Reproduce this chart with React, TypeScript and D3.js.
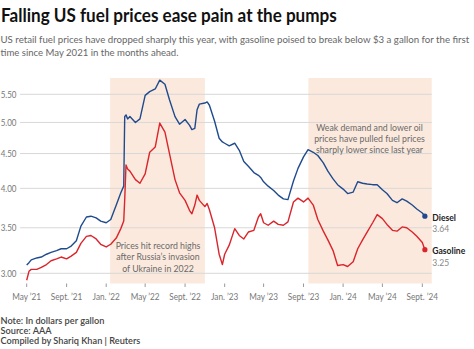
import React, { useEffect, useRef } from "react";
import * as d3 from "d3";

// AAA national averages, dollars per gallon
const dates = [
  "2021-05-01", "2021-05-08", "2021-05-15", "2021-06-01", "2021-06-15", "2021-07-01", "2021-07-15",
  "2021-08-01", "2021-08-15", "2021-09-01", "2021-09-15", "2021-10-01", "2021-10-15", "2021-11-01",
  "2021-11-15", "2021-12-01", "2021-12-15", "2022-01-01", "2022-01-15", "2022-02-01", "2022-02-15",
  "2022-02-24", "2022-02-27", "2022-03-03", "2022-03-08", "2022-03-15", "2022-04-01", "2022-04-15",
  "2022-05-01", "2022-05-15", "2022-06-01", "2022-06-15", "2022-07-01", "2022-07-15", "2022-08-01",
  "2022-08-15", "2022-09-01", "2022-09-15", "2022-09-22", "2022-10-01", "2022-10-08", "2022-10-15",
  "2022-11-01", "2022-11-08", "2022-11-15", "2022-12-01", "2022-12-15", "2022-12-25", "2023-01-01",
  "2023-01-15", "2023-02-01", "2023-02-15", "2023-03-01", "2023-03-15", "2023-04-01", "2023-04-15",
  "2023-04-22", "2023-05-01", "2023-05-15", "2023-06-01", "2023-06-15", "2023-07-01", "2023-07-15",
  "2023-08-01", "2023-08-15", "2023-09-01", "2023-09-15", "2023-10-01", "2023-10-15", "2023-11-01",
  "2023-11-15", "2023-12-01", "2023-12-15", "2024-01-01", "2024-01-15", "2024-02-01", "2024-02-15",
  "2024-03-01", "2024-03-15", "2024-04-01", "2024-04-15", "2024-05-01", "2024-05-15", "2024-06-01",
  "2024-06-15", "2024-07-01", "2024-07-15", "2024-08-01", "2024-08-15", "2024-09-01", "2024-09-09",
];

const diesel = [
  3.085, 3.11, 3.14, 3.16, 3.17, 3.2, 3.22,
  3.24, 3.26, 3.26, 3.29, 3.35, 3.52, 3.63,
  3.64, 3.62, 3.58, 3.56, 3.6, 3.78, 3.94,
  4.03, 5.1, 5.13, 5.06, 5.1, 5.0, 5.06,
  5.48, 5.55, 5.6, 5.77, 5.69, 5.4, 5.1,
  4.97, 5.05, 4.95, 4.88, 4.9, 5.22, 5.32,
  5.34, 5.36, 5.3, 5.02, 4.74, 4.68, 4.66,
  4.62, 4.66, 4.55, 4.38, 4.31, 4.22, 4.18,
  4.15, 4.09, 4.03, 3.97, 3.91, 3.86, 3.85,
  4.1, 4.28, 4.45, 4.56, 4.52, 4.47, 4.36,
  4.24, 4.13, 4.05, 3.99, 3.93, 3.95, 4.09,
  4.07, 4.06, 4.05, 4.05, 3.98, 3.93, 3.84,
  3.81, 3.86, 3.83, 3.78, 3.73, 3.68, 3.64,
];

const gasoline = [
  2.93, 3.02, 3.04, 3.04, 3.06, 3.09, 3.13,
  3.15, 3.17, 3.15, 3.18, 3.22, 3.32, 3.4,
  3.41, 3.37, 3.31, 3.28, 3.31, 3.38, 3.49,
  3.58, 3.85, 4.33, 4.27, 4.24, 4.12, 4.07,
  4.2, 4.52, 4.6, 4.99, 4.84, 4.5, 4.12,
  3.94, 3.84, 3.71, 3.67, 3.78, 3.91, 3.84,
  3.76, 3.8, 3.72, 3.5, 3.2, 3.09, 3.2,
  3.3, 3.49, 3.41, 3.37, 3.45, 3.47, 3.63,
  3.67, 3.56, 3.53, 3.58, 3.54, 3.53, 3.57,
  3.82, 3.87, 3.82, 3.87, 3.78, 3.6, 3.46,
  3.36, 3.24, 3.08, 3.09, 3.07, 3.12, 3.26,
  3.36, 3.45, 3.56, 3.66, 3.61, 3.54, 3.47,
  3.46, 3.51, 3.5, 3.45, 3.4, 3.33, 3.25,
];

const yTicks = [3, 3.5, 4, 4.5, 5, 5.5];
const xTickDates = [
  "2021-05-01", "2021-09-01", "2022-01-01", "2022-05-01", "2022-09-01", "2023-01-01",
  "2023-05-01", "2023-09-01", "2024-01-01", "2024-05-01", "2024-09-01",
];
const xTickLabels = [
  "May ’21", "Sept. ’21", "Jan. ’22", "May ’22", "Sept. ’22", "Jan. ’23",
  "May ’23", "Sept. ’23", "Jan. ’24", "May ’24", "Sept. ’24",
];

// shaded periods
const periods = [
  ["2022-01-13", "2022-11-01"],
  ["2023-09-16", "2024-09-30"],
];

const FONT = "Lato, 'Open Sans', sans-serif";
const BLUE = "#1f4b8e";
const RED = "#d9252b";

// squeeze text horizontally so Lato runs about as narrow as Source Sans
function condense(sel, k) {
  sel.each(function () {
    const w = this.getComputedTextLength();
    d3.select(this).attr("textLength", w * k).attr("lengthAdjust", "spacingAndGlyphs");
  });
}

// scale a left-anchored text line so it spans exactly `target` px
function fitTo(sel, target) {
  sel.each(function () {
    const el = d3.select(this);
    const x = +el.attr("x");
    const k = target / this.getComputedTextLength();
    el.attr("transform", `translate(${x},0) scale(${k},1) translate(${-x},0)`);
  });
}

function FuelChart() {
  const svgRef = useRef(null);

  useEffect(() => {
    const width = 474;
    const height = 349;
    const parse = d3.timeParse("%Y-%m-%d");

    const svg = d3.select(svgRef.current);
    svg.selectAll("*").remove();
    svg.attr("width", width).attr("height", height).style("font-family", FONT);

    const xScale = d3
      .scaleTime()
      .domain([parse("2021-05-01"), parse("2024-09-01")])
      .range([26.7, 422.3]);
    const yScale = d3.scaleLog().domain([3, 5.5]).range([273.3, 94.3]);

    // title and subtitle
    svg
      .append("text")
      .attr("x", 1)
      .attr("y", 22.5)
      .attr("font-size", 18.5)
      .attr("font-weight", 700)
      .attr("fill", "#111")
      .text("Falling US fuel prices ease pain at the pumps")
      .call(fitTo, 336);

    const sub = [
      ["US retail fuel prices have dropped sharply this year, with gasoline poised to break below $3 a gallon for the first", 469],
      ["time since May 2021 in the months ahead.", 178],
    ];
    sub.forEach(([t, len], i) => {
      svg
        .append("text")
        .attr("x", 0.5)
        .attr("y", 43 + i * 13.5)
        .attr("font-size", 10.3)
        .attr("fill", "#666")
        .text(t)
        .call(fitTo, len);
    });

    // shaded periods
    svg
      .append("g")
      .selectAll("rect")
      .data(periods)
      .join("rect")
      .attr("x", (d) => xScale(parse(d[0])))
      .attr("width", (d) => xScale(parse(d[1])) - xScale(parse(d[0])))
      .attr("y", 78)
      .attr("height", 205.5)
      .attr("fill", "#fce9dd");

    // gridlines and y labels
    const grid = svg.append("g");
    grid
      .selectAll("line")
      .data(yTicks)
      .join("line")
      .attr("x1", 20)
      .attr("x2", 431.7)
      .attr("y1", (d) => yScale(d))
      .attr("y2", (d) => yScale(d))
      .attr("stroke", "#d8d8d8")
      .attr("stroke-width", 1);
    grid
      .selectAll("text")
      .data(yTicks)
      .join("text")
      .attr("x", 16.5)
      .attr("y", (d) => yScale(d) + 3.6)
      .attr("text-anchor", "end")
      .attr("font-size", 10)
      .attr("fill", "#777")
      .text((d) => d3.format(".2f")(d))
      .call(condense, 0.8);

    // x axis ticks
    const xAxis = svg.append("g");
    xAxis
      .selectAll("line")
      .data(xTickDates)
      .join("line")
      .attr("x1", (d) => xScale(parse(d)))
      .attr("x2", (d) => xScale(parse(d)))
      .attr("y1", 283.5)
      .attr("y2", 287)
      .attr("stroke", "#999");
    xAxis
      .selectAll("text")
      .data(xTickLabels)
      .join("text")
      .attr("x", (d, i) => xScale(parse(xTickDates[i])))
      .attr("y", 299.5)
      .attr("text-anchor", "middle")
      .attr("font-size", 10)
      .attr("fill", "#777")
      .text((d) => d)
      .call(condense, 0.82);

    // annotations
    const notes = [
      { x: 158, y: 249, lines: ["Prices hit record highs", "after Russia’s invasion", "of Ukraine in 2022"] },
      { x: 369.5, y: 130.5, lines: ["Weak demand and lower oil", "prices have pulled fuel prices", "sharply lower since last year"] },
    ];
    notes.forEach((n) => {
      svg
        .append("g")
        .selectAll("text")
        .data(n.lines)
        .join("text")
        .attr("x", n.x)
        .attr("y", (d, i) => n.y + i * 11.4)
        .attr("text-anchor", "middle")
        .attr("font-size", 10.2)
        .attr("fill", "#6a6a6a")
        .text((d) => d)
        .call(condense, 0.86);
    });

    // the two series
    const series = [
      { name: "Diesel", values: diesel, color: BLUE },
      { name: "Gasoline", values: gasoline, color: RED },
    ];
    const line = d3
      .line()
      .x((d, i) => xScale(parse(dates[i])))
      .y((d) => yScale(d));

    series.forEach((s) => {
      svg
        .append("path")
        .datum(s.values)
        .attr("d", line)
        .attr("fill", "none")
        .attr("stroke", s.color)
        .attr("stroke-width", 1.4)
        .attr("stroke-linejoin", "round");

      const last = s.values[s.values.length - 1];
      const lx = xScale(parse(dates[dates.length - 1]));
      const ly = yScale(last);
      svg.append("circle").attr("cx", lx).attr("cy", ly).attr("r", 2.6).attr("fill", s.color);
      svg
        .append("text")
        .attr("x", 432.3)
        .attr("y", ly + 4.5)
        .attr("font-size", 10.2)
        .attr("font-weight", 700)
        .attr("fill", "#222")
        .text(s.name)
        .call(condense, 0.84);
      svg
        .append("text")
        .attr("x", 432.3)
        .attr("y", ly + 16.2)
        .attr("font-size", 10.2)
        .attr("fill", "#888")
        .text(d3.format(".2f")(last))
        .call(condense, 0.84);
    });

    // footer
    const footer = ["Note: In dollars per gallon", "Source: AAA", "Compiled by Shariq Khan | Reuters"];
    svg
      .append("g")
      .selectAll("text")
      .data(footer)
      .join("text")
      .attr("x", 0.5)
      .attr("y", (d, i) => 323.5 + i * 10.4)
      .attr("font-size", 9.2)
      .attr("font-weight", 600)
      .attr("fill", "#444")
      .text((d) => d);
  }, []);

  return <svg ref={svgRef} style={{ position: "absolute", left: 0, top: 0 }}></svg>;
}

export default function App() {
  return <FuelChart />;
}
